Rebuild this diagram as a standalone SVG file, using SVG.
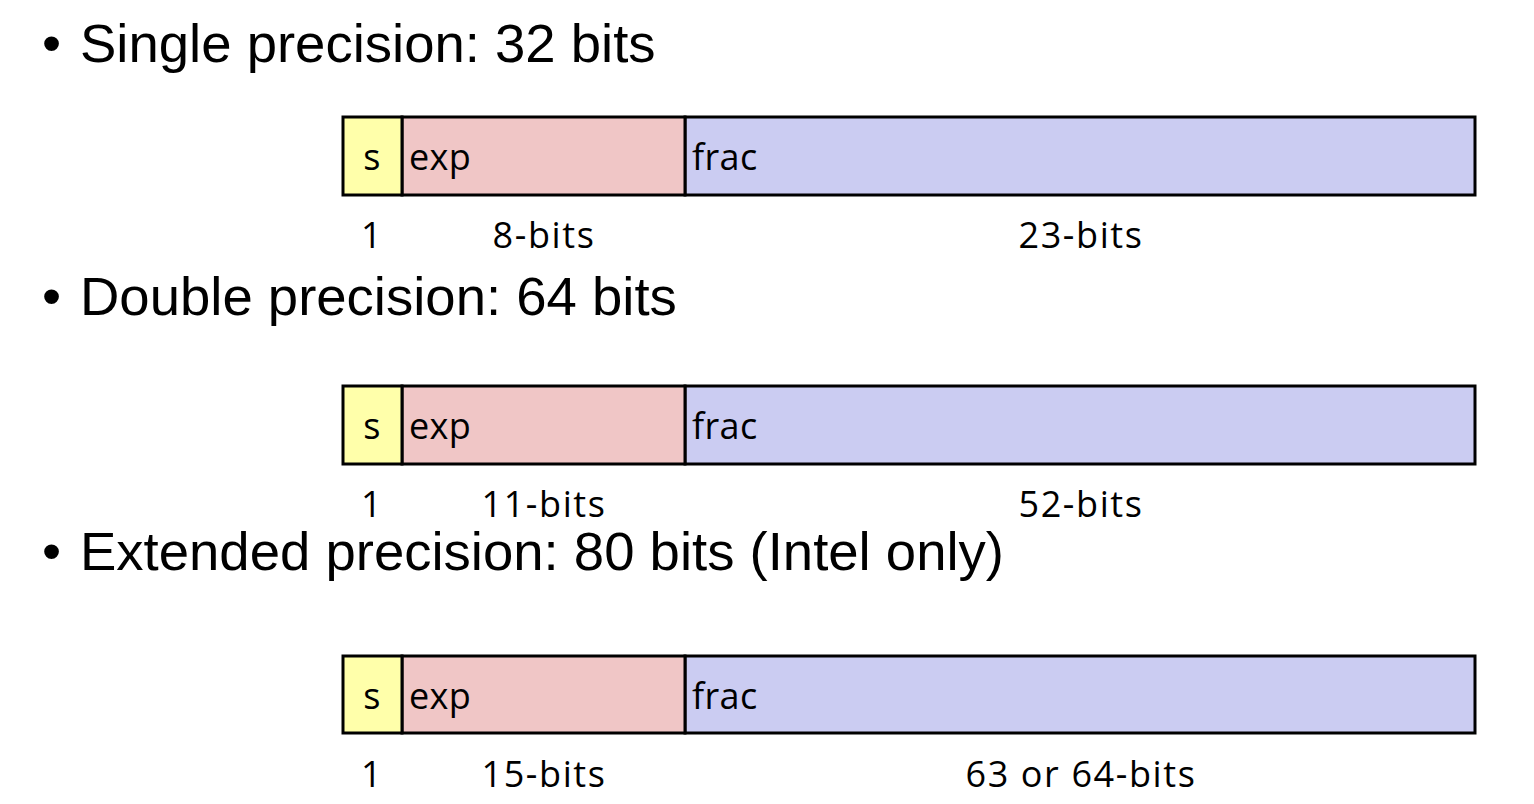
<svg xmlns="http://www.w3.org/2000/svg" width="1534" height="804" viewBox="0 0 1534 804">
<style>
.h{font-family:"Liberation Sans",Arial,sans-serif;font-size:54.5px;fill:#000}
.t{font-family:"Open Sans","Noto Sans",sans-serif;font-size:36px;fill:#000;letter-spacing:0.4px}
.b{letter-spacing:1.6px}
.c{text-anchor:middle}
.s{fill:#FFFFAA;stroke:#000;stroke-width:3}
.e{fill:#F0C6C6;stroke:#000;stroke-width:3}
.f{fill:#CBCCF2;stroke:#000;stroke-width:3}
</style>
<rect width="1534" height="804" fill="#fff"/>
<g id="heading1"><text class="h" x="42" y="62">•</text><text class="h" x="80" y="62">Single precision: 32 bits</text></g>
<g id="single">
<rect class="f" x="685" y="117" width="790" height="78"/>
<rect class="e" x="402" y="117" width="283" height="78"/>
<rect class="s" x="343" y="117" width="59" height="78"/>
<text class="t c" x="372" y="170">s</text>
<text class="t" x="409" y="170">exp</text>
<text class="t" x="692" y="170">frac</text>
<text class="t b c" x="372" y="248">1</text>
<text class="t b c" x="544" y="248">8-bits</text>
<text class="t b c" x="1081" y="248">23-bits</text>
</g>
<g id="heading2"><text class="h" x="42" y="315">•</text><text class="h" x="80" y="315">Double precision: 64 bits</text></g>
<g id="double">
<rect class="f" x="685" y="386" width="790" height="78"/>
<rect class="e" x="402" y="386" width="283" height="78"/>
<rect class="s" x="343" y="386" width="59" height="78"/>
<text class="t c" x="372" y="439">s</text>
<text class="t" x="409" y="439">exp</text>
<text class="t" x="692" y="439">frac</text>
<text class="t b c" x="372" y="517">1</text>
<text class="t b c" x="544" y="517">11-bits</text>
<text class="t b c" x="1081" y="517">52-bits</text>
</g>
<g id="heading3"><text class="h" x="42" y="570">•</text><text class="h" x="80" y="570">Extended precision: 80 bits (Intel only)</text></g>
<g id="extended">
<rect class="f" x="685" y="656" width="790" height="77"/>
<rect class="e" x="402" y="656" width="283" height="77"/>
<rect class="s" x="343" y="656" width="59" height="77"/>
<text class="t c" x="372" y="709">s</text>
<text class="t" x="409" y="709">exp</text>
<text class="t" x="692" y="709">frac</text>
<text class="t b c" x="372" y="787">1</text>
<text class="t b c" x="544" y="787">15-bits</text>
<text class="t b c" x="1081" y="787">63 or 64-bits</text>
</g>
</svg>
